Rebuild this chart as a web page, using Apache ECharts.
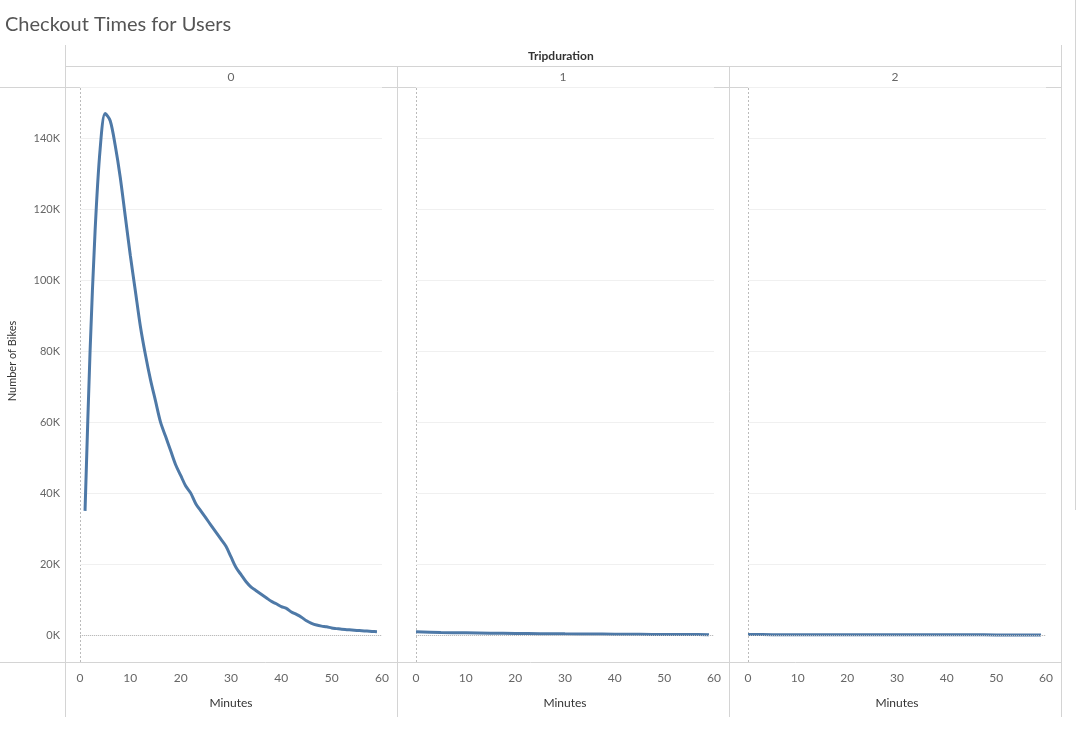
<!DOCTYPE html>
<html>
<head>
<meta charset="utf-8">
<script src="https://cdn.jsdelivr.net/npm/echarts@6/dist/echarts.min.js"></script>
<style>html,body{margin:0;padding:0;background:#fff}#main{width:1088px;height:737px}</style>
</head>
<body>
<div id="main"></div>
<script>
var panels = ['0', '1', '2'];
var minutes0 = [1,2,3,4,5,6,7,8,9,10,11,12,13,14,15,16,17,18,19,20,21,22,23,24,25,26,27,28,29,30,31,32,33,34,35,36,37,38,39,40,41,42,43,44,45,46,47,48,49,50,51,52,53,54,55,56,57,58,59];
var bikes0 = [35000,80000,114000,137000,147000,145000,138000,129000,118000,107000,97000,87000,79000,72000,66000,60000,56000,52000,48000,45000,42000,40000,37000,35000,33000,31000,29000,27000,25000,22000,19000,17000,15000,13500,12500,11500,10500,9500,8800,8000,7500,6500,5800,5000,4000,3300,2800,2500,2300,2000,1800,1600,1500,1400,1300,1200,1100,1000,900];
var minutes1 = [0,5,10,15,20,25,30,35,40,45,50,55,59];
var bikes1 = [900,700,600,520,450,380,320,270,230,190,150,120,100];
var minutes2 = [0,5,10,15,20,25,30,35,40,45,50,55,59];
var bikes2 = [120,100,90,80,70,60,55,50,45,40,35,30,25];

var font = 'Lato, "Open Sans", sans-serif';
var lefts = [80, 416, 748], widths = [302, 298, 298];
var datasets = [[minutes0, bikes0], [minutes1, bikes1], [minutes2, bikes2]];

var grid = [], xAxis = [], yAxis = [], series = [];
panels.forEach(function (p, i) {
    grid.push({left: lefts[i], width: widths[i], top: 87, height: 548});
    xAxis.push({
        type: 'value', gridIndex: i, min: 0, max: 60, interval: 10, offset: 27,
        name: 'Minutes', nameLocation: 'middle', nameGap: 35,
        nameTextStyle: {fontFamily: font, fontSize: 12, color: '#333'},
        axisLine: {show: false}, axisTick: {show: false}, splitLine: {show: false},
        axisLabel: {fontFamily: font, fontSize: 12, color: '#666', margin: 10}
    });
    yAxis.push({
        type: 'value', gridIndex: i, min: 0, max: 154500, interval: 20000,
        name: i === 0 ? 'Number of Bikes' : '', nameLocation: 'middle', nameGap: 62,
        nameTextStyle: {fontFamily: font, fontSize: 11, color: '#333'},
        axisLine: {show: false}, axisTick: {show: false},
        splitLine: {show: true, lineStyle: {color: '#f0f0f0'}},
        axisLabel: {show: i === 0, fontFamily: font, fontSize: 11, color: '#666', margin: 20,
            showMaxLabel: false,
            formatter: function (v) { return (v / 1000) + 'K'; }}
    });
    series.push({
        type: 'line', xAxisIndex: i, yAxisIndex: i, smooth: 0.3, showSymbol: false, clip: false,
        lineStyle: {color: '#4e79a7', width: 3},
        markLine: {silent: true, symbol: 'none', label: {show: false},
            lineStyle: {color: '#bbb', type: 'dotted', width: 1}, data: [{yAxis: 0}]},
        data: datasets[i][0].map(function (m, k) { return [m, datasets[i][1][k]]; })
    });
});

function line(x1, y1, x2, y2, dash) {
    return {type: 'line', shape: {x1: x1, y1: y1, x2: x2, y2: y2}, silent: true,
        style: {stroke: dash ? '#bbb' : '#d4d4d4', lineWidth: 1, lineDash: dash ? [2, 2] : null}};
}
var graphics = [
    line(0, 87.5, 1061, 87.5), line(0, 662.5, 1061, 662.5), line(65, 66.5, 1061, 66.5),
    line(65.5, 45, 65.5, 717), line(397.5, 66, 397.5, 717), line(729.5, 66, 729.5, 717), line(1061.5, 45, 1061.5, 717),
    line(80.5, 88, 80.5, 662, true), line(416.5, 88, 416.5, 662, true), line(748.5, 88, 748.5, 662, true),
    line(1075.5, 0, 1075.5, 510),
    {type: 'text', left: 528, top: 50, style: {text: 'Tripduration', font: 'bold 12px ' + font, fill: '#333'}}
];
[231, 563, 895].forEach(function (cx, i) {
    graphics.push({type: 'text', x: cx, y: 71, style: {text: panels[i], font: '12px ' + font, fill: '#666', align: 'center'}});
});

var chart = echarts.init(document.getElementById('main'));
chart.setOption({
    animation: false,
    title: {text: 'Checkout Times for Users', left: 0, top: 10,
        textStyle: {fontFamily: font, fontSize: 20, fontWeight: 'normal', color: '#555'}},
    grid: grid, xAxis: xAxis, yAxis: yAxis, series: series, graphic: graphics
});
</script>
</body>
</html>
